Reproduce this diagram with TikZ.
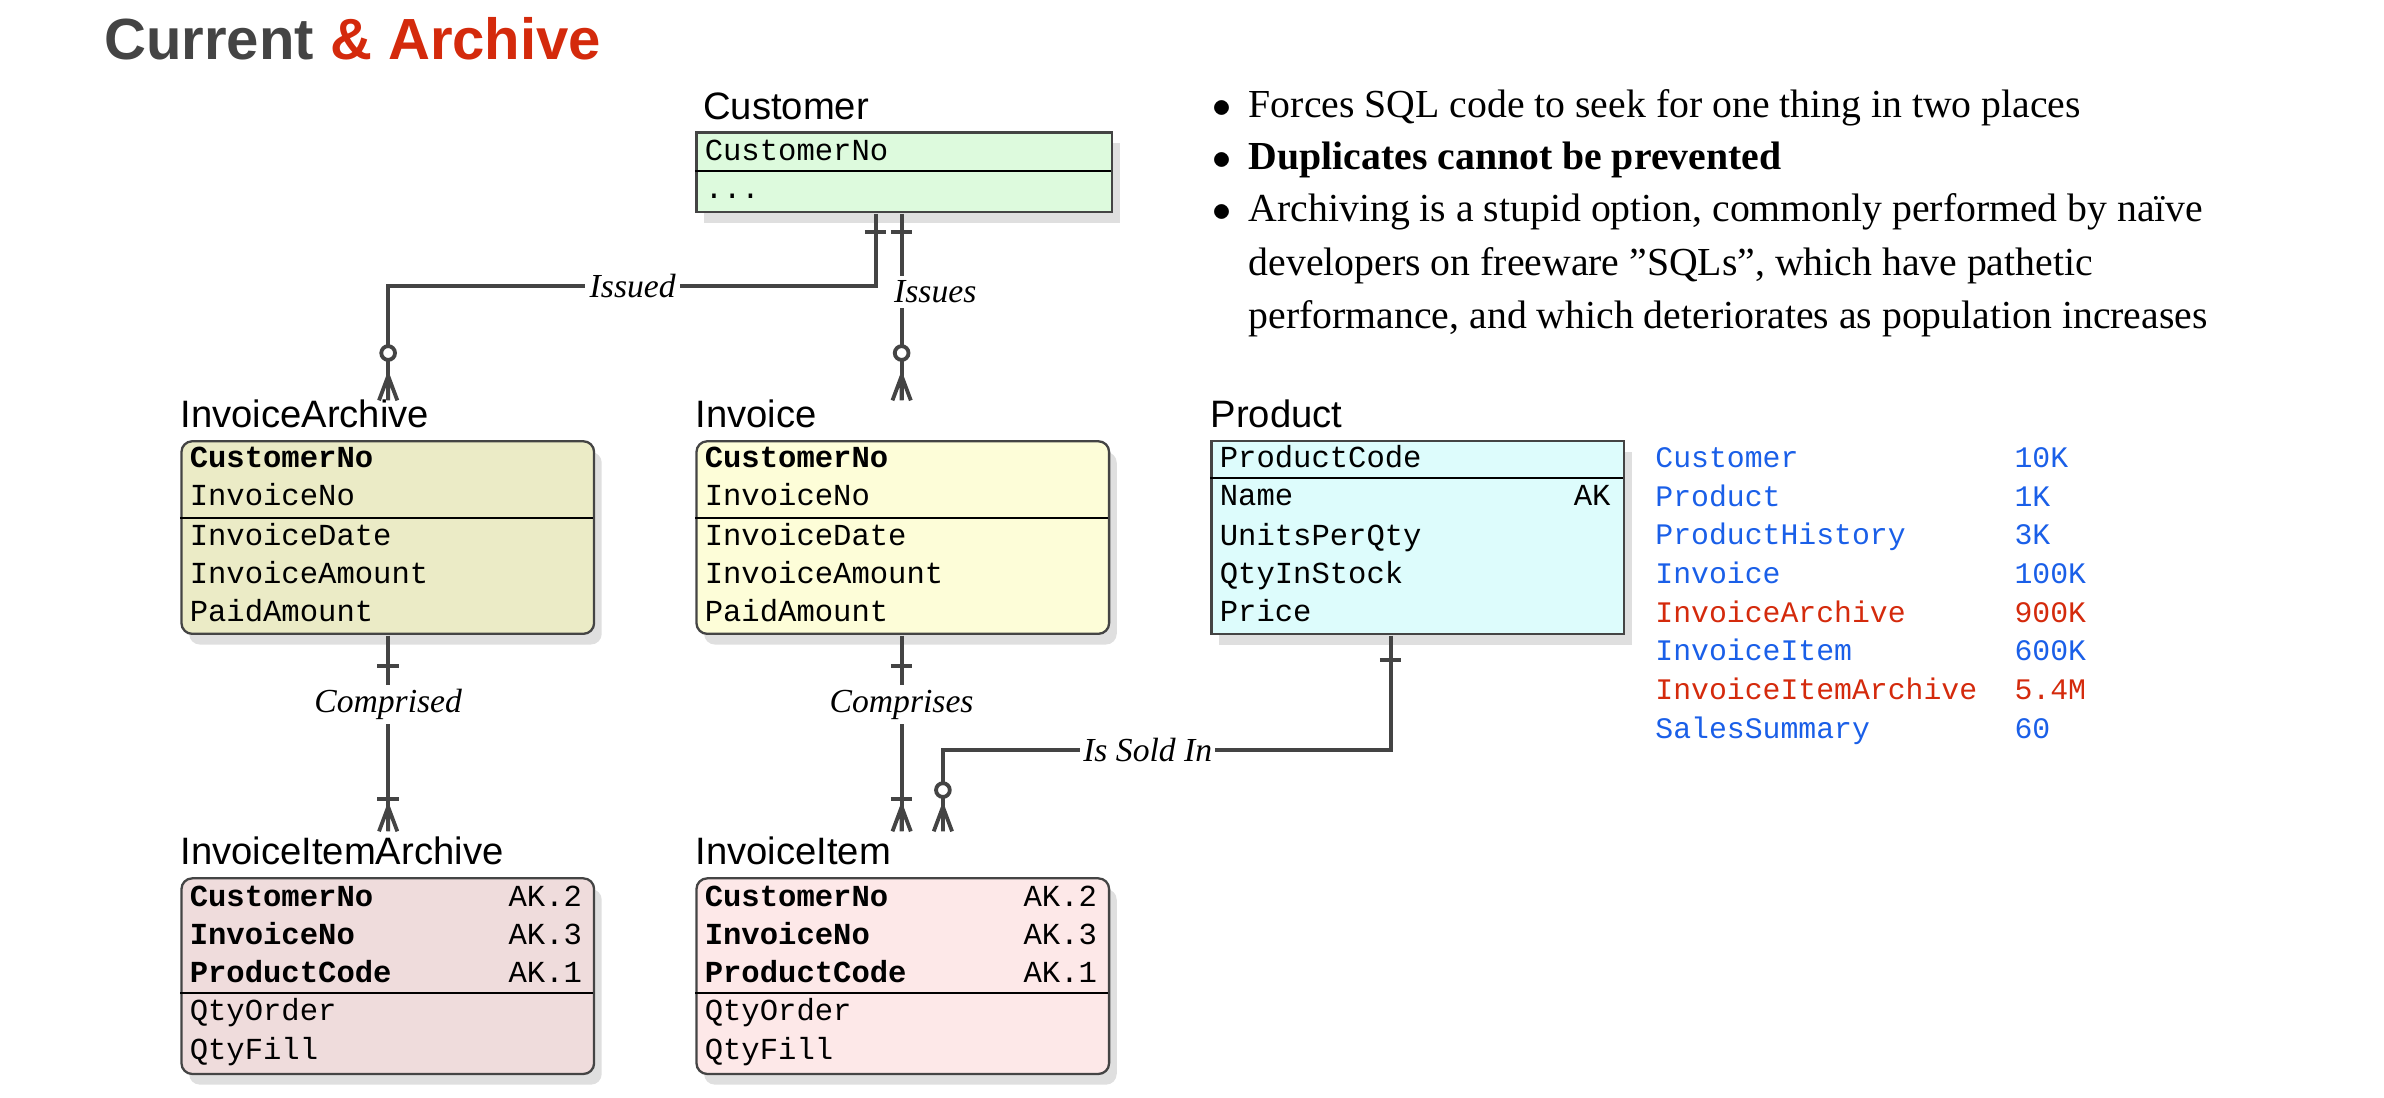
\documentclass[tikz,border=0pt]{standalone}
\usepackage{fontspec}
\setmainfont{Liberation Serif}
\setsansfont{Liberation Sans}
\setmonofont{Liberation Mono}
\usetikzlibrary{shadows,calc}
\definecolor{ln}{HTML}{444444}
\definecolor{ttl}{HTML}{444444}
\definecolor{red}{HTML}{D42A0C}
\definecolor{blu}{HTML}{1A5FE8}
\definecolor{cg}{HTML}{DDFADD}
\definecolor{iag}{HTML}{EBEBC6}
\definecolor{iy}{HTML}{FDFDD8}
\definecolor{pc}{HTML}{DDFCFC}
\definecolor{iia}{HTML}{EFDCDC}
\definecolor{ii}{HTML}{FDE8E8}
\tikzset{
 ent/.style={draw=ln, line width=1.5pt, anchor=north west, inner sep=0pt,
   drop shadow={opacity=0.25, shadow xshift=5pt, shadow yshift=-7pt}},
 rnd/.style={rounded corners=7pt},
 ename/.style={anchor=base west, inner sep=0pt, font=\fontsize{25}{28}\sffamily},
 att/.style={anchor=base west, inner sep=0pt, font=\fontsize{20}{22}\ttfamily},
 batt/.style={att, font=\fontsize{20}{22}\ttfamily\bfseries},
 rel/.style={draw=ln, line width=2.5pt},
 lbl/.style={font=\fontsize{22}{24}\itshape, fill=white, inner sep=3pt},
 bul/.style={anchor=base west, inner sep=0pt, font=\fontsize{26}{28}\rmfamily},
 st/.style={anchor=base west, inner sep=0pt, font=\fontsize{19.5}{22}\ttfamily, text=blu},
 divl/.style={draw=black, line width=1.5pt}
}
\newcommand{\crowfoot}[2]{%
 \draw[rel] (#1-6,#2) -- (#1,#2-16) -- (#1+6,#2) (#1,#2) -- (#1,#2-16);}
\newcommand{\onebar}[2]{\draw[rel] (#1-7,#2) -- (#1+7,#2);}
\begin{document}
\begin{tikzpicture}[x=1pt,y=-1pt]
\useasboundingbox (0,0) rectangle (1560,718);
% title
\node[anchor=base west, inner sep=0pt, font=\fontsize{38}{40}\sffamily\bfseries] (title) at (68,39) {\textcolor{ttl}{Current} \textcolor{red}{\& Archive}};
% Customer
\node[ename] (custN) at (460,78) {Customer};
\node[ent, fill=cg, minimum width=272pt, minimum height=52pt] (cust) at (455,86) {};
\draw[divl] (455,112) -- (727,112);
\node[att] (c1) at (461,105) {CustomerNo};
\node[att] (c2) at (461,130) {...};
% InvoiceArchive
\node[ename] (iaN) at (118,280) {InvoiceArchive};
\node[ent, rnd, fill=iag, minimum width=270pt, minimum height=126pt] (ia) at (118,288) {};
\draw[divl] (118,339) -- (388,339);
\node[batt] at (124,306) {CustomerNo};
\node[att] at (124,331) {InvoiceNo};
\node[att] at (124,357) {InvoiceDate};
\node[att] at (124,382) {InvoiceAmount};
\node[att] at (124,407) {PaidAmount};
% Invoice
\node[ename] (invN) at (455,280) {Invoice};
\node[ent, rnd, fill=iy, minimum width=270pt, minimum height=126pt] (inv) at (455,288) {};
\draw[divl] (455,339) -- (725,339);
\node[batt] at (461,306) {CustomerNo};
\node[att] at (461,331) {InvoiceNo};
\node[att] at (461,357) {InvoiceDate};
\node[att] at (461,382) {InvoiceAmount};
\node[att] at (461,407) {PaidAmount};
% Product
\node[ename] (prN) at (792,280) {Product};
\node[ent, fill=pc, minimum width=270pt, minimum height=126pt] (pr) at (792,288) {};
\draw[divl] (792,313) -- (1062,313);
\node[att] at (798,306) {ProductCode};
\node[att] at (798,331) {Name};
\node[att, anchor=base east] at (1054,331) {AK};
\node[att] at (798,357) {UnitsPerQty};
\node[att] at (798,382) {QtyInStock};
\node[att] at (798,407) {Price};
% InvoiceItemArchive
\node[ename] (iiaN) at (118,566) {InvoiceItemArchive};
\node[ent, rnd, fill=iia, minimum width=270pt, minimum height=128pt] (iia) at (118,574) {};
\draw[divl] (118,650) -- (388,650);
\node[batt] at (124,593) {CustomerNo};
\node[batt] at (124,618) {InvoiceNo};
\node[batt] at (124,643) {ProductCode};
\node[att, anchor=base east] at (381,593) {AK.2};
\node[att, anchor=base east] at (381,618) {AK.3};
\node[att, anchor=base east] at (381,643) {AK.1};
\node[att] at (124,668) {QtyOrder};
\node[att] at (124,693) {QtyFill};
% InvoiceItem
\node[ename] (iiN) at (455,566) {InvoiceItem};
\node[ent, rnd, fill=ii, minimum width=270pt, minimum height=128pt] (ii) at (455,574) {};
\draw[divl] (455,650) -- (725,650);
\node[batt] at (461,593) {CustomerNo};
\node[batt] at (461,618) {InvoiceNo};
\node[batt] at (461,643) {ProductCode};
\node[att, anchor=base east] at (718,593) {AK.2};
\node[att, anchor=base east] at (718,618) {AK.3};
\node[att, anchor=base east] at (718,643) {AK.1};
\node[att] at (461,668) {QtyOrder};
\node[att] at (461,693) {QtyFill};
% Issued
\coordinate (a1) at (573,140);
\coordinate (a2) at (254,262);
\draw[rel] (a1) |- (a2 |- 0,187) -- (a2);
\node[lbl] (issued) at (414,187) {Issued};
\onebar{573}{152}
\draw[rel, fill=white] (254,231) circle (4.5);
\crowfoot{254}{262}
% Issues
\coordinate (b1) at (590,140);
\coordinate (b2) at (590,262);
\draw[rel] (b1) -- (b2);
\node[lbl] (issues) at (612,191) {Issues};
\onebar{590}{152}
\draw[rel, fill=white] (590,231) circle (4.5);
\crowfoot{590}{262}
% Comprised
\coordinate (d1) at (254,416);
\coordinate (d2) at (254,544);
\draw[rel] (d1) -- (d2);
\node[lbl] (comprised) at (254,461) {Comprised};
\onebar{254}{436}
\onebar{254}{523}
\crowfoot{254}{544}
% Comprises
\coordinate (e1) at (590,416);
\coordinate (e2) at (590,544);
\draw[rel] (e1) -- (e2);
\node[lbl] (comprises) at (590,461) {Comprises};
\onebar{590}{436}
\onebar{590}{523}
\crowfoot{590}{544}
% Is Sold In
\coordinate (f1) at (910,416);
\coordinate (f2) at (617,544);
\draw[rel] (f1) |- (f2 |- 0,491) -- (f2);
\node[lbl, inner sep=2pt] (sold) at (751,491) {Is Sold In};
\onebar{910}{432}
\draw[rel, fill=white] (617,517) circle (4.5);
\crowfoot{617}{544}
% bullets
\node[bul] (t1) at (793,77) {$\bullet$};\node[bul] at (817,77) {Forces SQL code to seek for one thing in two places};
\node[bul] (t2) at (793,111) {$\bullet$};\node[bul, font=\fontsize{26}{28}\rmfamily\bfseries] at (817,111) {Duplicates cannot be prevented};
\node[bul] (t3) at (793,145) {$\bullet$};\node[bul] at (817,145) {Archiving is a stupid option, commonly performed by naïve};
\node[bul] at (817,180) {developers on freeware "SQLs", which have pathetic};
\node[bul] at (817,215) {performance, and which deteriorates as population increases};
% stats
\foreach \n/\v/\c [count=\i from 0] in {Customer/10K/blu,Product/1K/blu,ProductHistory/3K/blu,Invoice/100K/blu,InvoiceArchive/900K/red,InvoiceItem/600K/blu,InvoiceItemArchive/5.4M/red,SalesSummary/60/blu}{
 \node[st, text=\c] (s\i) at (1083,306+25.3*\i) {\n};
 \node[st, text=\c] (v\i) at (1318,306+25.3*\i) {\v};
}
\end{tikzpicture}
\end{document}
